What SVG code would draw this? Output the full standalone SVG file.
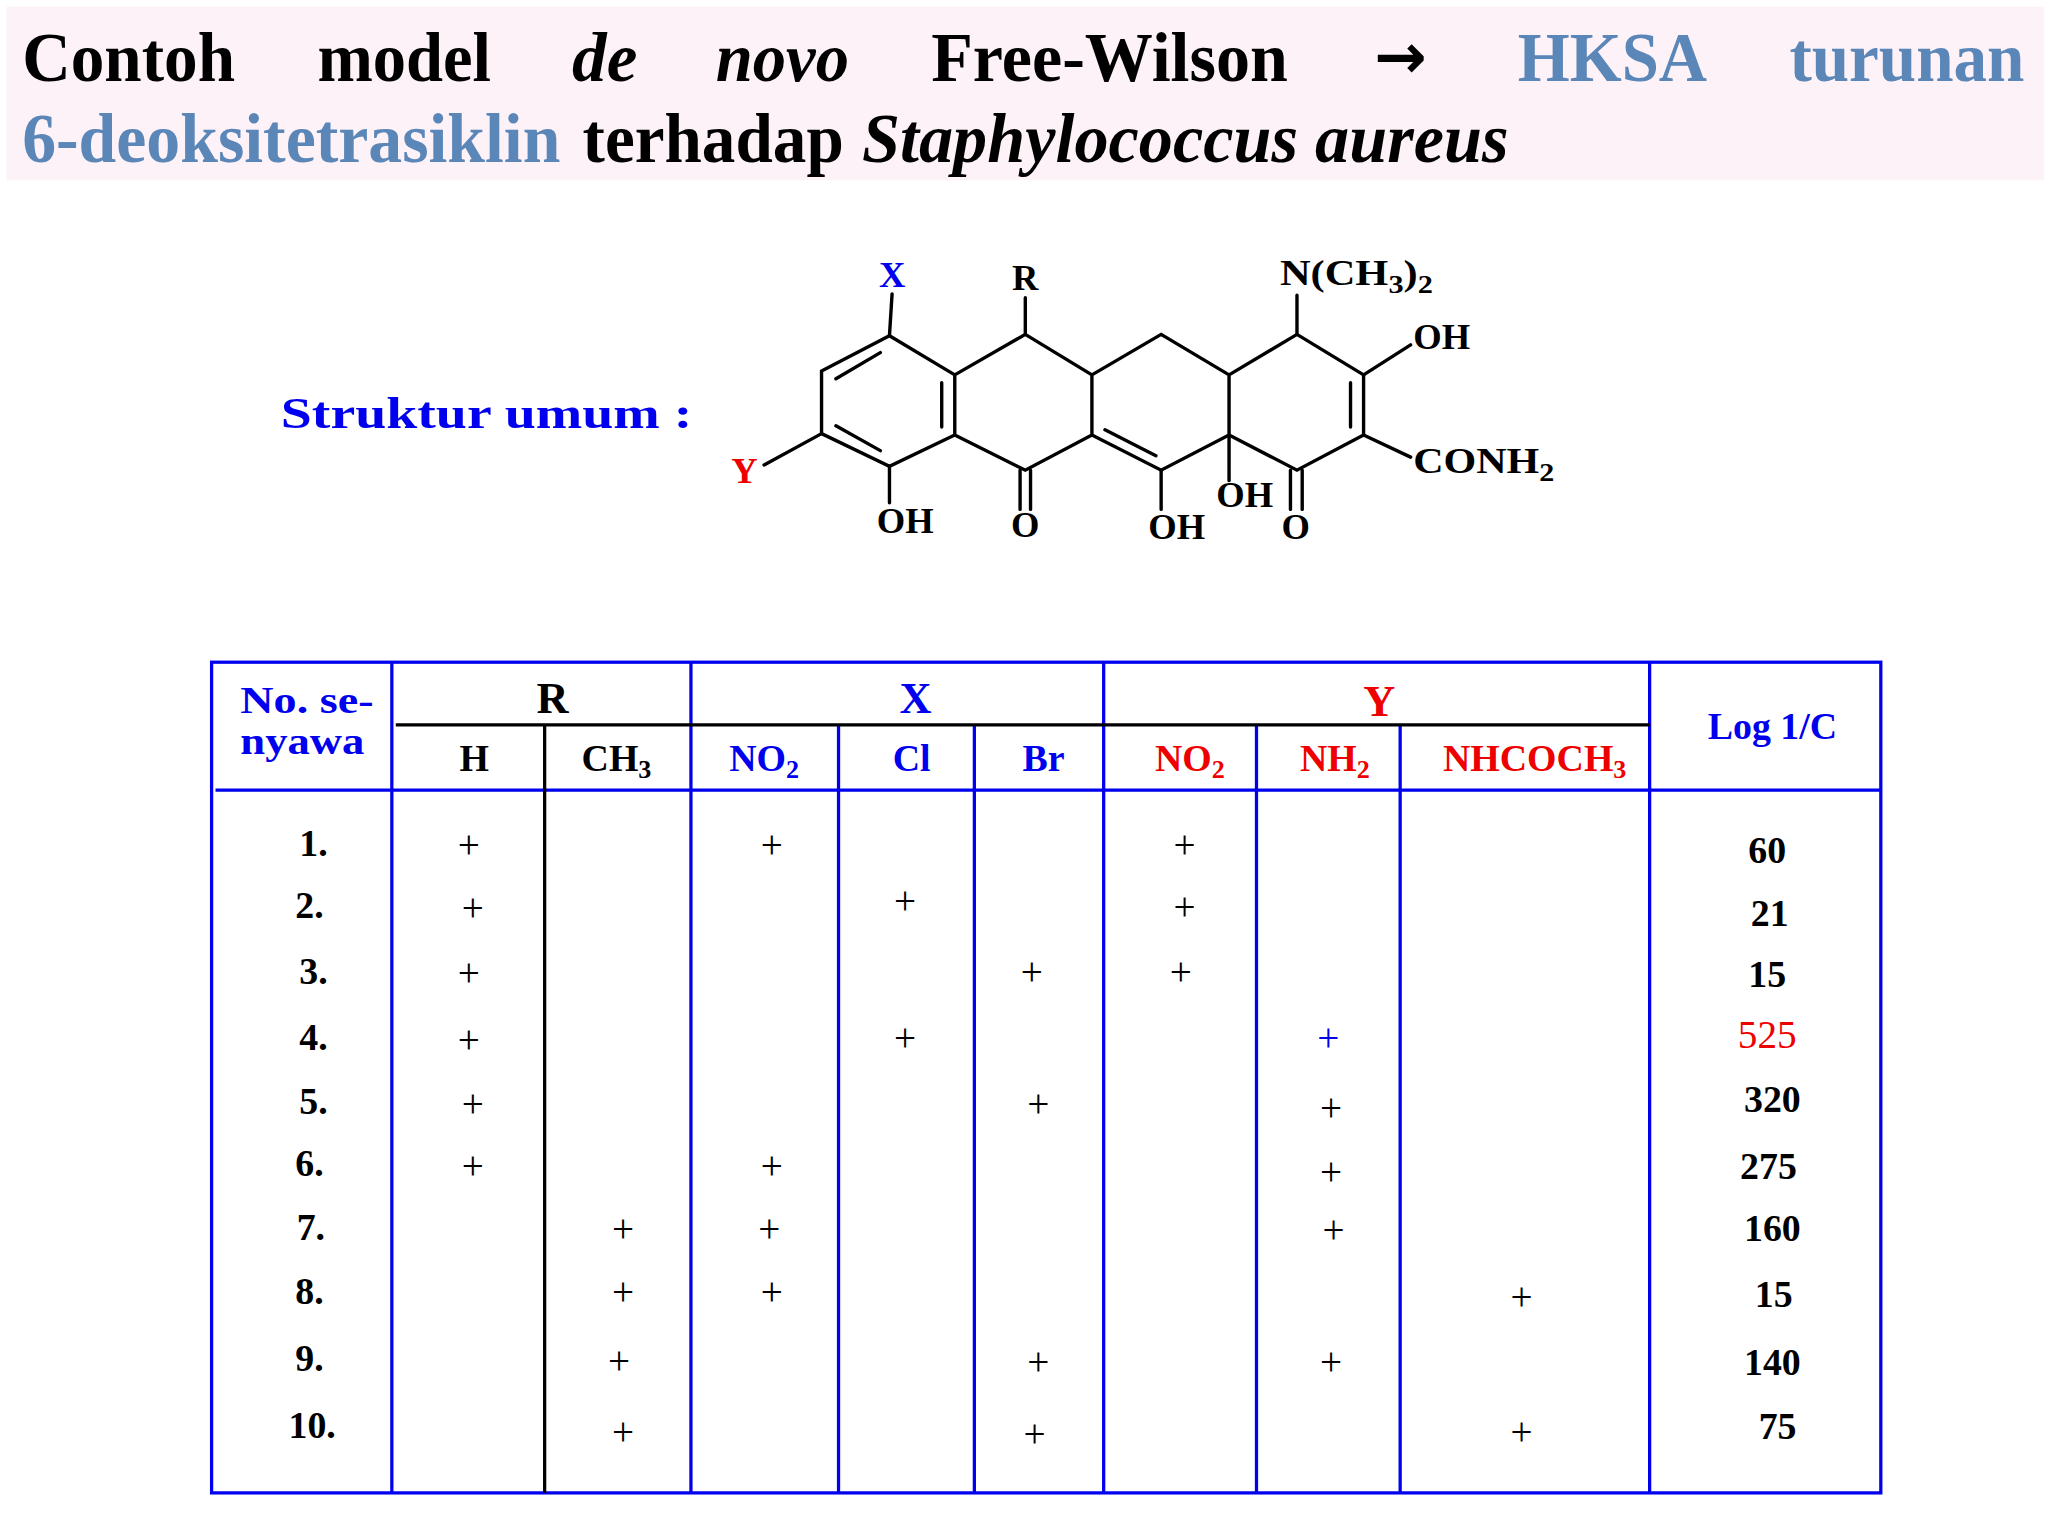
<svg xmlns="http://www.w3.org/2000/svg" width="2048" height="1536" viewBox="0 0 2048 1536">
<style>
.t{font-family:"Liberation Serif",serif;font-weight:bold}
.b{fill:#0000ee}.r{fill:#ee0000}.k{fill:#000}
.bond{stroke:#000;stroke-width:2.6;fill:none;stroke-linecap:round}
.p{font-family:"Liberation Serif",serif;font-size:30px;fill:#000;text-anchor:middle}
.n{font-family:"Liberation Serif",serif;font-weight:bold;font-size:29px;text-anchor:middle}
.bl{stroke:#0000ee;stroke-width:2.5}
.kl{stroke:#000;stroke-width:2.5}
</style>
<rect width="2048" height="1536" fill="#fff"/>
<g transform="scale(1.30612)">
<g id="title">
<rect x="5" y="5" width="1560" height="133" fill="#fdf2f8"/>
<g class="t" font-size="54">
<text x="17" y="62" class="k" textLength="163" lengthAdjust="spacingAndGlyphs">Contoh</text>
<text x="243" y="62" class="k" textLength="133" lengthAdjust="spacingAndGlyphs">model</text>
<text x="438" y="62" class="k" font-style="italic" textLength="50" lengthAdjust="spacingAndGlyphs">de</text>
<text x="548" y="62" class="k" font-style="italic" textLength="102" lengthAdjust="spacingAndGlyphs">novo</text>
<text x="713" y="62" class="k" textLength="273" lengthAdjust="spacingAndGlyphs">Free-Wilson</text>
<text x="1052" y="60" class="k" font-family="DejaVu Sans" font-size="48">→</text>
<text x="1162" y="62" fill="#5b86b8" textLength="145" lengthAdjust="spacingAndGlyphs">HKSA</text>
<text x="1370" y="62" fill="#5b86b8" textLength="180" lengthAdjust="spacingAndGlyphs">turunan</text>
<text x="17" y="124" fill="#5b86b8" textLength="412" lengthAdjust="spacingAndGlyphs">6-deoksitetrasiklin</text>
<text x="446" y="124" class="k" textLength="200" lengthAdjust="spacingAndGlyphs">terhadap</text>
<text x="660" y="124" class="k" font-style="italic" textLength="495" lengthAdjust="spacingAndGlyphs">Staphylococcus aureus</text>
</g>
</g>
<g id="label-struktur"><text x="215" y="328" class="t b" font-size="34" textLength="315" lengthAdjust="spacingAndGlyphs">Struktur umum  :</text></g>
<g id="structure">
<path class="bond" d="M681,257 L731,287 L731,333 L681,357 L629,332 L629,284 Z M731,287 L785,256 L836,287 L836,333 L785,360 L731,333 M836,287 L889,256 L941,287 L941,333 L889,360 L836,333 M941,287 L993,256 L1044,287 L1044,333 L993,360 L941,333"/>
<path class="bond" d="M674,270 L640,290 M721,293 L721,327 M674,345 L640,326 M846,329 L885,349 M1034,293 L1034,327"/>
<path class="bond" d="M681,257 L683,225 M785,256 L785,228 M993,256 L993,226 M1044,287 L1080,264 M1044,333 L1080,350 M629,332 L585,356 M681,357 L681,385 M781,360 L781,390 M789,360 L789,390 M889,360 L889,390 M941,333 L941,368 M988,360 L988,390 M997,360 L997,390"/>
<g class="t" font-size="28">
<text x="683" y="220" class="b" text-anchor="middle">X</text>
<text x="785" y="222" class="k" text-anchor="middle">R</text>
<text x="980" y="218" class="k" textLength="117" lengthAdjust="spacingAndGlyphs">N(CH<tspan font-size="20" dy="6">3</tspan><tspan dy="-6">)</tspan><tspan font-size="20" dy="6">2</tspan></text>
<text x="1082" y="267" class="k">OH</text>
<text x="1082" y="362" class="k" textLength="108" lengthAdjust="spacingAndGlyphs">CONH<tspan font-size="20" dy="6">2</tspan></text>
<text x="570" y="370" class="r" text-anchor="middle">Y</text>
<text x="693" y="408" class="k" text-anchor="middle">OH</text>
<text x="785" y="411" class="k" text-anchor="middle">O</text>
<text x="901" y="413" class="k" text-anchor="middle">OH</text>
<text x="953" y="388" class="k" text-anchor="middle">OH</text>
<text x="992" y="413" class="k" text-anchor="middle">O</text>
</g>
</g>
<g id="table">
<rect x="162" y="507" width="1278" height="636" fill="none" class="bl"/>
<path class="bl" d="M300,507 V1143 M529,507 V1143 M845,507 V1143 M1263,507 V1143 M642,555 V1143 M746,555 V1143 M962,555 V1143 M1072,555 V1143 M165,605 H1440"/>
<path class="kl" d="M303,555 H1263 M417,555 V1143"/>
<g class="t" font-size="29">
<text x="184" y="546" class="b" textLength="102" lengthAdjust="spacingAndGlyphs">No. se-</text>
<text x="184" y="577" class="b" textLength="95" lengthAdjust="spacingAndGlyphs">nyawa</text>
<text x="423" y="546" class="k" text-anchor="middle" font-size="34">R</text>
<text x="701" y="546" class="b" text-anchor="middle" font-size="34">X</text>
<text x="1056" y="548" class="r" text-anchor="middle" font-size="34">Y</text>
<text x="1357" y="566" class="b" text-anchor="middle">Log 1/C</text>
<text x="363" y="590" class="k" text-anchor="middle">H</text>
<text x="472" y="590" class="k" text-anchor="middle">CH<tspan font-size="20" dy="6">3</tspan></text>
<text x="585" y="590" class="b" text-anchor="middle">NO<tspan font-size="20" dy="6">2</tspan></text>
<text x="698" y="590" class="b" text-anchor="middle">Cl</text>
<text x="799" y="590" class="b" text-anchor="middle">Br</text>
<text x="911" y="590" class="r" text-anchor="middle">NO<tspan font-size="20" dy="6">2</tspan></text>
<text x="1022" y="590" class="r" text-anchor="middle">NH<tspan font-size="20" dy="6">2</tspan></text>
<text x="1175" y="590" class="r" text-anchor="middle">NHCOCH<tspan font-size="20" dy="6">3</tspan></text>
</g>
<g class="n k">
<text x="240" y="655">1.</text><text x="237" y="703">2.</text><text x="240" y="753">3.</text><text x="240" y="804">4.</text><text x="240" y="853">5.</text>
<text x="237" y="900">6.</text><text x="238" y="949">7.</text><text x="237" y="998">8.</text><text x="237" y="1050">9.</text><text x="239" y="1101">10.</text>
<text x="1353" y="661">60</text><text x="1355" y="709">21</text><text x="1353" y="756">15</text>
<text x="1357" y="851">320</text><text x="1354" y="903">275</text><text x="1357" y="950">160</text><text x="1358" y="1001">15</text><text x="1357" y="1053">140</text><text x="1361" y="1102">75</text>
</g>
<text x="1353" y="802" class="p" style="fill:#ee0000">525</text>
<g class="p">
<text x="359" y="657">+</text><text x="591" y="657">+</text><text x="907" y="657">+</text>
<text x="362" y="705">+</text><text x="693" y="700">+</text><text x="907" y="704">+</text>
<text x="359" y="755">+</text><text x="790" y="754">+</text><text x="904" y="754">+</text>
<text x="359" y="806">+</text><text x="693" y="805">+</text><text x="1017" y="805" style="fill:#0000ee">+</text>
<text x="362" y="855">+</text><text x="795" y="855">+</text><text x="1019" y="858">+</text>
<text x="362" y="903">+</text><text x="591" y="903">+</text><text x="1019" y="907">+</text>
<text x="477" y="951">+</text><text x="589" y="951">+</text><text x="1021" y="952">+</text>
<text x="477" y="999">+</text><text x="591" y="999">+</text><text x="1165" y="1003">+</text>
<text x="474" y="1052">+</text><text x="795" y="1053">+</text><text x="1019" y="1053">+</text>
<text x="477" y="1106">+</text><text x="792" y="1108">+</text><text x="1165" y="1106">+</text>
</g>
</g>
</g>
</svg>
